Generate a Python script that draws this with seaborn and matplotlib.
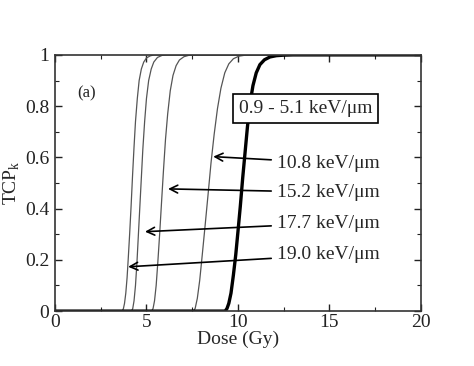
import matplotlib
matplotlib.use("Agg")
import matplotlib.pyplot as plt
import seaborn as sns
import pandas as pd

# TCP_k curves (dose in Gy, TCP)
dose_190 = [0, 3.68, 3.74, 3.8, 3.87, 3.94, 4.0, 4.08, 4.16, 4.24, 4.32, 4.4, 4.5, 4.6, 4.72, 4.85, 5.0, 5.2, 5.4, 20]
tcp_190 = [0, 0, 0.01, 0.03, 0.07, 0.13, 0.2, 0.3, 0.41, 0.53, 0.64, 0.74, 0.83, 0.9, 0.945, 0.972, 0.988, 0.996, 1.0, 1.0]

dose_177 = [0, 4.18, 4.25, 4.32, 4.4, 4.48, 4.56, 4.64, 4.72, 4.8, 4.9, 5.0, 5.12, 5.26, 5.4, 5.6, 5.85, 6.1, 20]
tcp_177 = [0, 0, 0.01, 0.04, 0.1, 0.19, 0.3, 0.41, 0.52, 0.63, 0.74, 0.83, 0.9, 0.945, 0.972, 0.99, 0.998, 1.0, 1.0]

dose_152 = [0, 5.28, 5.36, 5.44, 5.53, 5.62, 5.72, 5.82, 5.93, 6.04, 6.16, 6.3, 6.45, 6.62, 6.8, 7.05, 7.35, 7.7, 20]
tcp_152 = [0, 0, 0.01, 0.04, 0.1, 0.19, 0.3, 0.42, 0.55, 0.67, 0.77, 0.86, 0.92, 0.958, 0.98, 0.993, 0.999, 1.0, 1.0]

dose_108 = [0, 7.55, 7.66, 7.78, 7.91, 8.05, 8.2, 8.36, 8.53, 8.7, 8.88, 9.07, 9.28, 9.5, 9.75, 10.05, 10.4, 10.8, 20]
tcp_108 = [0, 0, 0.01, 0.05, 0.12, 0.22, 0.33, 0.45, 0.58, 0.69, 0.79, 0.87, 0.93, 0.965, 0.985, 0.995, 0.999, 1.0, 1.0]

dose_low = [0, 9.3, 9.4, 9.5, 9.62, 9.75, 9.88, 10.0, 10.13, 10.26, 10.39, 10.52, 10.66, 10.82, 11.0, 11.2, 11.45, 11.75, 12.1, 12.5, 13.0, 20]
tcp_low = [0, 0, 0.01, 0.03, 0.07, 0.14, 0.22, 0.31, 0.41, 0.52, 0.62, 0.72, 0.81, 0.88, 0.93, 0.962, 0.981, 0.992, 0.997, 0.999, 1.0, 1.0]

# arrow labels: text, text position, arrow tip
labels = ["10.8 keV/\u03bcm", "15.2 keV/\u03bcm", "17.7 keV/\u03bcm", "19.0 keV/\u03bcm"]
label_y = [0.578, 0.464, 0.343, 0.219]
tip_x = [8.65, 6.18, 4.92, 4.0]
tip_y = [0.603, 0.477, 0.31, 0.173]

sns.set_style("ticks")
plt.rcParams["font.family"] = ["Liberation Serif", "DejaVu Serif"]

fig = plt.figure(figsize=(4.74, 3.66), dpi=100)
ax = fig.add_axes([0.116, 0.150, 0.772, 0.700])

thin = [(dose_190, tcp_190), (dose_177, tcp_177), (dose_152, tcp_152), (dose_108, tcp_108)]
for d, t in thin:
    sns.lineplot(x=d, y=t, ax=ax, color="#555555", lw=0.9, sort=False)
sns.lineplot(x=dose_low, y=tcp_low, ax=ax, color="black", lw=2.4, sort=False)

ax.set_xlim(0, 20)
ax.set_ylim(0, 1)
ax.set_xticks([0, 5, 10, 15, 20])
ax.set_xticks([2.5, 7.5, 12.5, 17.5], minor=True)
ax.set_yticks([0, 0.2, 0.4, 0.6, 0.8, 1.0])
ax.set_yticklabels(["0", "0.2", "0.4", "0.6", "0.8", "1"])
ax.set_yticks([0.1, 0.3, 0.5, 0.7, 0.9], minor=True)
ax.tick_params(which="both", direction="in", top=True, right=True, labelsize=14, colors="#222222")
ax.tick_params(which="major", length=5, width=1.0)
ax.tick_params(which="minor", length=3, width=0.8)
ax.tick_params(axis="x", pad=2)
ax.tick_params(axis="y", pad=4)
for sp in ax.spines.values():
    sp.set_visible(True)
    sp.set_linewidth(1.2)
    sp.set_color("#333333")

ax.set_xlabel("Dose (Gy)", fontsize=14, labelpad=0)
ax.set_ylabel("TCP$_\\mathregular{k}$", fontsize=14, labelpad=2)

ax.text(1.75, 0.85, "(a)", fontsize=12, ha="center", va="center")
ax.text(13.7, 0.79, "0.9 - 5.1 keV/\u03bcm", fontsize=14, ha="center", va="center",
        bbox=dict(boxstyle="square,pad=0.3", fc="white", ec="black", lw=1.2))

for lab, ly, tx, ty in zip(labels, label_y, tip_x, tip_y):
    ax.annotate(lab, xy=(tx, ty), xytext=(12.15, ly), fontsize=14, ha="left", va="center",
                arrowprops=dict(arrowstyle="->", color="black", lw=1.2, shrinkA=2, shrinkB=0))

fig.savefig("out.png", dpi=100)
